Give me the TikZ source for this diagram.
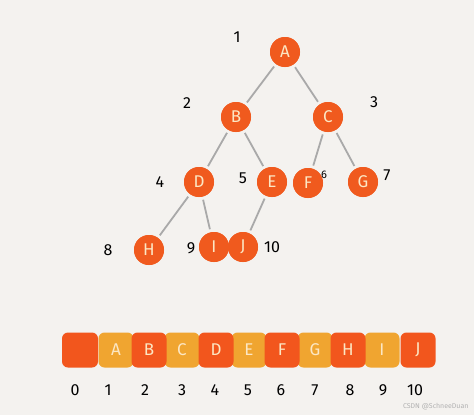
\documentclass[tikz,border=0pt]{standalone}
\usepackage{fontspec}
\setmainfont{Fira Sans}
\definecolor{bg}{HTML}{F4F2EF}
\definecolor{nodeor}{HTML}{F05A1E}
\definecolor{letter}{HTML}{FCE7C4}
\definecolor{cellred}{HTML}{F2561D}
\definecolor{cellamb}{HTML}{F0A530}
\definecolor{edgegray}{HTML}{A9A9A9}
\begin{document}
\begin{tikzpicture}[x=1pt,y=-1pt,
  tn/.style={circle,fill=nodeor,minimum size=30pt,inner sep=0pt,text=letter,font=\fontsize{17}{17}\selectfont},
  lbl/.style={font=\fontsize{16}{16}\selectfont,text=black},
  slbl/.style={font=\fontsize{11}{11}\selectfont,text=black},
  edge/.style={draw=edgegray,line width=1.8pt,shorten <=3pt,shorten >=3pt},
  redcell/.style={rounded corners=6pt,fill=cellred,minimum width=35pt,minimum height=35pt,inner sep=0pt,text=letter,font=\fontsize{17}{17}\selectfont},
  ambcell/.style={rounded corners=6pt,fill=cellamb,minimum width=35pt,minimum height=35pt,inner sep=0pt,text=letter,font=\fontsize{17}{17}\selectfont},
  idx/.style={font=\fontsize{16}{16}\selectfont,text=black}]
\fill[bg] (0,0) rectangle (474,415);
\useasboundingbox (0,0) rectangle (474,415);
% tree nodes
\node[tn] (A) at (285,52) {A};
\node[tn] (B) at (236,117) {B};
\node[tn] (C) at (328,117) {C};
\node[tn] (D) at (199,182) {D};
\node[tn] (E) at (272,182) {E};
\node[tn] (F) at (308,183) {F};
\node[tn] (G) at (363,182) {G};
\node[tn] (H) at (149,250) {H};
\node[tn] (I) at (214,247) {I};
\node[tn] (J) at (243,247) {J};
% edges
\draw[edge] (A) -- (B);
\draw[edge] (A) -- (C);
\draw[edge] (B) -- (D);
\draw[edge] (B) -- (E);
\draw[edge] (C) -- (F);
\draw[edge] (C) -- (G);
\draw[edge] (D) -- (H);
\draw[edge] (D) -- (I);
\draw[edge] (E) -- (J);
% redraw nodes on top
\node[tn] at (A) {A};
\node[tn] at (B) {B};
\node[tn] at (C) {C};
\node[tn] at (D) {D};
\node[tn] at (E) {E};
\node[tn] at (F) {F};
\node[tn] at (G) {G};
\node[tn] at (H) {H};
\node[tn] at (I) {I};
\node[tn] at (J) {J};
% index labels
\node[lbl] (l1) at (237,37) {1};
\node[lbl] (l2) at (187,103) {2};
\node[lbl] (l3) at (374,102) {3};
\node[lbl] (l4) at (160,182) {4};
\node[lbl] (l5) at (243,178) {5};
\node[slbl] (l6) at (324,175) {6};
\node[lbl] (l7) at (387,175) {7};
\node[lbl] (l8) at (108,250) {8};
\node[lbl] (l9) at (191,248) {9};
\node[lbl] (l10) at (272,247) {10};
% array
\node[ambcell] (c1) at (116,350) {A};
\node[ambcell] (c3) at (182,350) {C};
\node[ambcell] (c5) at (249,350) {E};
\node[ambcell] (c7) at (315,350) {G};
\node[ambcell] (c9) at (382,350) {I};
\node[redcell,minimum width=36pt] (c0) at (80,350) {};
\node[redcell] (c2) at (149,350) {B};
\node[redcell] (c4) at (216,350) {D};
\node[redcell] (c6) at (282,350) {F};
\node[redcell] (c8) at (348,350) {H};
\node[redcell] (c10) at (418,350) {J};
% array indices
\node[idx] (i0) at (75,390) {0};
\node[idx] (i1) at (108,390) {1};
\node[idx] (i2) at (145,390) {2};
\node[idx] (i3) at (182,390) {3};
\node[idx] (i4) at (215,390) {4};
\node[idx] (i5) at (248,390) {5};
\node[idx] (i6) at (281,390) {6};
\node[idx] (i7) at (315,390) {7};
\node[idx] (i8) at (350,390) {8};
\node[idx] (i9) at (383,390) {9};
\node[idx] (i10) at (415,390) {10};
% watermark
\node[anchor=east,text=black!30,font=\fontsize{7}{7}\selectfont] (wm) at (472,407) {CSDN @SchneeDuan};
\end{tikzpicture}
\end{document}
